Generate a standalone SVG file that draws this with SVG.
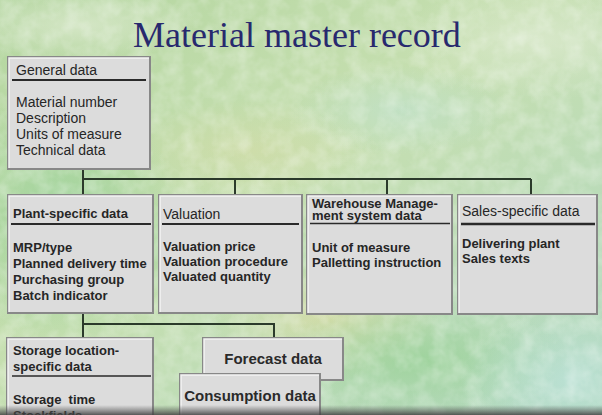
<svg xmlns="http://www.w3.org/2000/svg" width="602" height="415" viewBox="0 0 602 415">
<defs>
<linearGradient id="bg" x1="0" y1="0" x2="1" y2="1">
<stop offset="0" stop-color="#b4d6a0"/>
<stop offset="0.45" stop-color="#c6dfb0"/>
<stop offset="1" stop-color="#b0d8c0"/>
</linearGradient>
<radialGradient id="y1" cx="0.5" cy="0.5" r="0.5">
<stop offset="0" stop-color="#dcdca4" stop-opacity="0.7"/>
<stop offset="1" stop-color="#dcdca4" stop-opacity="0"/>
</radialGradient>
<radialGradient id="g1" cx="0.5" cy="0.5" r="0.5">
<stop offset="0" stop-color="#9cd29a" stop-opacity="0.9"/>
<stop offset="1" stop-color="#9cd29a" stop-opacity="0"/>
</radialGradient>
<radialGradient id="w1" cx="0.5" cy="0.5" r="0.5">
<stop offset="0" stop-color="#dceacf" stop-opacity="0.8"/>
<stop offset="1" stop-color="#dceacf" stop-opacity="0"/>
</radialGradient>
<radialGradient id="c1" cx="0.5" cy="0.5" r="0.5">
<stop offset="0" stop-color="#bce2d8" stop-opacity="0.8"/>
<stop offset="1" stop-color="#bce2d8" stop-opacity="0"/>
</radialGradient>
<linearGradient id="shade" x1="0" y1="0" x2="0" y2="1">
<stop offset="0" stop-color="#505050" stop-opacity="0"/>
<stop offset="1" stop-color="#404040" stop-opacity="0.85"/>
</linearGradient>
<filter id="tex" x="0" y="0" width="1" height="1">
<feTurbulence type="fractalNoise" baseFrequency="0.06" numOctaves="3" seed="4"/>
<feColorMatrix type="matrix" values="0 0 0 0 1  0 0 0 0 1  0 0 0 0 1  0 0 0 -1.6 1.05"/>
</filter>
</defs>
<style>
.box{fill:#dcdcdc;stroke:#888888;stroke-width:2}
.hl{fill:none;stroke:#f4f4f4;stroke-width:1.5}
.t{font-family:"Liberation Sans",Arial,sans-serif;font-size:13px;fill:#262626}
.b{font-weight:bold}
.n{font-size:14px}
.hd{stroke:#2a2a2a;stroke-width:2}
.con{fill:none;stroke:#2b3a2b;stroke-width:2}
.big{font-family:"Liberation Sans",Arial,sans-serif;font-size:15px;font-weight:bold;fill:#2a2a2a;text-anchor:middle}
</style>
<rect width="602" height="415" fill="url(#bg)"/>
<ellipse cx="330" cy="320" rx="120" ry="60" fill="url(#y1)"/>
<ellipse cx="250" cy="150" rx="130" ry="50" fill="url(#y1)" opacity="0.6"/>
<ellipse cx="420" cy="360" rx="150" ry="60" fill="url(#g1)"/>
<ellipse cx="60" cy="220" rx="120" ry="130" fill="url(#g1)"/>
<ellipse cx="200" cy="250" rx="140" ry="60" fill="url(#g1)" opacity="0.6"/>
<ellipse cx="540" cy="40" rx="140" ry="60" fill="url(#w1)"/>
<ellipse cx="80" cy="25" rx="120" ry="35" fill="url(#w1)"/>
<ellipse cx="570" cy="380" rx="110" ry="70" fill="url(#c1)"/>
<ellipse cx="400" cy="110" rx="110" ry="45" fill="url(#c1)" opacity="0.6"/>
<rect width="602" height="415" filter="url(#tex)" opacity="0.35"/>

<text x="133" y="47" font-family="'Liberation Serif','Times New Roman',serif" font-size="36" fill="#28296e">Material master record</text>

<g id="connectors">
<path class="con" d="M83 169V195M83 179H531M235 179V195M387 179V195M531 179V195"/>
<path class="con" d="M83 313V338M83 324H274V338"/>
</g>

<g id="general">
<rect class="box" x="8" y="57" width="142" height="112"/>
<path class="hl" d="M9 168V58H149"/>
<text class="t n" x="16" y="75">General data</text>
<line class="hd" x1="12" y1="80" x2="146" y2="80"/>
<text class="t n" x="16" y="107">Material number</text>
<text class="t n" x="16" y="123">Description</text>
<text class="t n" x="16" y="139">Units of measure</text>
<text class="t n" x="16" y="155">Technical data</text>
</g>

<g id="plant">
<rect class="box" x="8" y="195" width="145" height="118"/>
<path class="hl" d="M9 312V196H152"/>
<text class="t b" x="13" y="218">Plant-specific data</text>
<line class="hd" x1="11" y1="224" x2="151" y2="224"/>
<text class="t b" x="13" y="252">MRP/type</text>
<text class="t b" x="13" y="268">Planned delivery time</text>
<text class="t b" x="13" y="284">Purchasing group</text>
<text class="t b" x="13" y="300">Batch indicator</text>
</g>

<g id="valuation">
<rect class="box" x="159" y="195" width="143" height="118"/>
<path class="hl" d="M160 312V196H301"/>
<text class="t n" x="163" y="219">Valuation</text>
<line class="hd" x1="162" y1="224" x2="299" y2="224"/>
<text class="t b" x="163" y="251">Valuation price</text>
<text class="t b" x="163" y="266">Valuation procedure</text>
<text class="t b" x="163" y="281">Valuated quantity</text>
</g>

<g id="warehouse">
<rect class="box" x="307" y="195" width="145" height="119"/>
<path class="hl" d="M308 313V196H451"/>
<text class="t b" x="312" y="208">Warehouse Manage-</text>
<text class="t b" x="312" y="220">ment system data</text>
<line x1="310" y1="223.5" x2="450" y2="223.5" stroke="#2a2a2a" stroke-width="1.3"/>
<text class="t b" x="312" y="252">Unit of measure</text>
<text class="t b" x="312" y="267">Palletting instruction</text>
</g>

<g id="sales">
<rect class="box" x="458" y="195" width="139" height="119"/>
<path class="hl" d="M459 313V196H596"/>
<text class="t n" x="462" y="216">Sales-specific data</text>
<line x1="461" y1="224" x2="595" y2="224" stroke="#2a2a2a" stroke-width="2.5"/>
<text class="t b" x="462" y="248">Delivering plant</text>
<text class="t b" x="462" y="263">Sales texts</text>
</g>

<g id="storage">
<rect class="box" x="7" y="338" width="146" height="90"/>
<path class="hl" d="M8 428V339H152"/>
<text class="t b" x="13" y="355">Storage location-</text>
<text class="t b" x="13" y="371">specific data</text>
<line x1="12" y1="376" x2="151" y2="376" stroke="#2a2a2a" stroke-width="1.5"/>
<text class="t b" x="13" y="404" xml:space="preserve">Storage  time</text>
<text class="t b" x="13" y="420">Stockfields</text>
</g>

<g id="forecast">
<rect class="box" x="203" y="338" width="140" height="42"/>
<path class="hl" d="M204 379V339H342"/>
<text class="big" x="273" y="364">Forecast data</text>
</g>

<g id="consumption">
<rect class="box" x="180" y="374" width="140" height="60"/>
<path class="hl" d="M181 434V375H319"/>
<text class="big" x="250" y="401">Consumption data</text>
</g>

<rect x="0" y="405" width="602" height="10" fill="url(#shade)"/>
</svg>
